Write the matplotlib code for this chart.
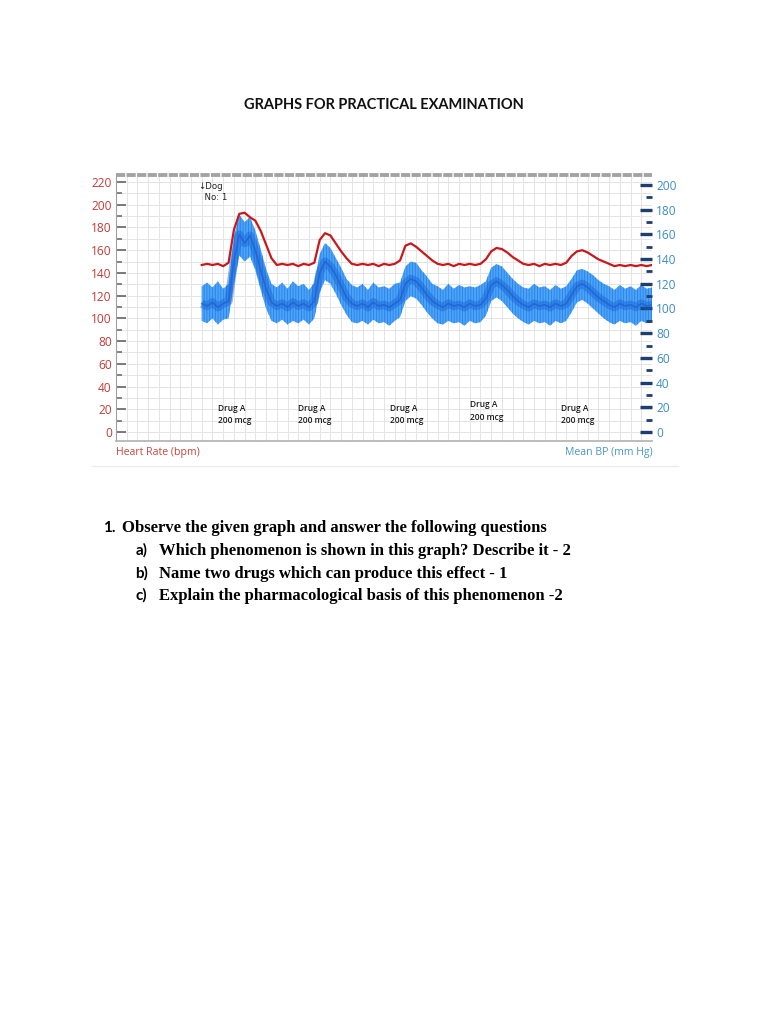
import numpy as np
import matplotlib.pyplot as plt
from matplotlib.ticker import MultipleLocator

plt.rcParams['lines.scale_dashes'] = False
plt.rcParams['hatch.linewidth'] = 0.6

# tiempo en divisiones de la cuadricula, una muestra cada media division
t_inicio, t_fin, t_paso = 8.0, 50.0, 0.5
tiempo = np.arange(t_inicio, t_fin + t_paso / 2, t_paso)

# Heart Rate (bpm), eje izquierdo
frecuencia = [147, 148, 147, 148, 146, 149, 178, 192, 193, 189,
              186, 177, 165, 153, 147, 148, 147, 148, 146, 148,
              147, 149, 169, 175, 173, 166, 159, 153, 148, 147,
              148, 147, 148, 146, 148, 147, 148, 151, 164, 166,
              163, 159, 155, 151, 148, 147, 148, 146, 148, 147,
              148, 147, 148, 152, 159, 162, 161, 158, 154, 151,
              148, 147, 148, 146, 148, 147, 148, 147, 149, 155,
              159, 160, 158, 155, 152, 150, 148, 146, 147, 146,
              147, 146, 147, 146, 147]

# Mean BP (mm Hg), eje derecho: centro y bordes de la banda
pam_media = [104, 102, 105, 101, 104, 106, 138, 160, 153, 159,
             147, 131, 116, 105, 102, 104, 101, 105, 102, 104,
             101, 106, 129, 138, 134, 127, 118, 109, 104, 102,
             104, 101, 105, 102, 103, 101, 104, 107, 120, 124,
             122, 117, 111, 106, 103, 101, 104, 102, 103, 101,
             104, 102, 103, 108, 119, 122, 119, 115, 110, 106,
             103, 101, 104, 102, 103, 101, 104, 102, 104, 111,
             118, 120, 117, 113, 109, 106, 103, 101, 104, 102,
             103, 101, 104, 102, 103]
pam_alta = [118, 121, 117, 122, 116, 120, 158, 176, 170, 174,
            163, 148, 132, 120, 117, 121, 116, 122, 118, 120,
            115, 121, 144, 153, 149, 141, 133, 124, 119, 117,
            120, 115, 121, 117, 118, 116, 120, 121, 134, 138,
            137, 131, 126, 120, 118, 115, 120, 116, 119, 117,
            118, 117, 119, 122, 133, 136, 134, 129, 124, 120,
            117, 116, 120, 117, 118, 115, 119, 116, 118, 124,
            131, 132, 130, 127, 123, 120, 118, 115, 119, 116,
            118, 115, 119, 116, 117]
pam_baja = [90, 88, 92, 87, 91, 92, 120, 143, 138, 142,
            131, 115, 100, 90, 88, 91, 87, 90, 88, 91,
            87, 92, 113, 123, 120, 112, 103, 95, 89, 88,
            90, 87, 91, 88, 89, 86, 90, 93, 106, 110,
            108, 103, 97, 92, 88, 87, 90, 88, 89, 86,
            90, 88, 89, 94, 106, 109, 106, 101, 96, 92,
            89, 87, 90, 88, 89, 86, 90, 88, 90, 97,
            105, 107, 104, 100, 96, 92, 89, 87, 90, 88,
            89, 86, 90, 88, 89]

# marcas de inyeccion (division de la cuadricula)
dosis_t = [9.5, 17.0, 25.6, 33.0, 41.5]
dosis_texto = 'Drug A\n200 mcg'

fc_ticks = list(range(0, 221, 20))
pa_ticks = list(range(0, 201, 20))

titulo = 'GRAPHS FOR PRACTICAL EXAMINATION'
preguntas = [('1.', 'Observe the given graph and answer the following questions'),
             ('a)', 'Which phenomenon is shown in this graph? Describe it - 2'),
             ('b)', 'Name two drugs which can produce this effect - 1'),
             ('c)', 'Explain the pharmacological basis of this phenomenon -2')]

W, H = 768, 1024
def px(x, y):
    return x / W, 1 - y / H

fig = plt.figure(figsize=(7.68, 10.24), dpi=100)
fig.patch.set_facecolor('white')

# ---- grafico ----
pos = [116 / W, 1 - 441 / H, 536 / W, 266 / H]
ax = fig.add_axes(pos)
ax.set_xlim(0, 50)
ax.set_ylim(-7.9, 226.2)
ax.set_xticks(range(0, 51))
ax.tick_params(axis='x', length=0, labelbottom=False)
ax.set_yticks(fc_ticks)
ax.yaxis.set_minor_locator(MultipleLocator(10))
ax.tick_params(axis='y', which='major', direction='in', length=7, width=1.3,
               color='#707070', labelcolor='#c23c36', labelsize=8.6, pad=3)
ax.tick_params(axis='y', which='minor', direction='in', length=4, width=1.2,
               color='#707070')
for lab in ax.get_yticklabels():
    lab.set_family('Open Sans')
ax.grid(True, which='both', color='#e4e4e4', lw=0.7)
ax.set_axisbelow(True)
for s in ['top', 'right']:
    ax.spines[s].set_visible(False)
ax.spines['left'].set_color('#a0a0a0')
ax.spines['bottom'].set_color('#b0b0b0')
ax.spines['bottom'].set_linewidth(1.2)
ax.axhline(226.2, color='#a3a3a3', lw=2.8, dashes=(6.6, 1.0), clip_on=False)

# presion arterial media, eje derecho
ax2 = ax.twinx()
ax2.set_ylim(-7.3, 208.1)
ax2.set_yticks(pa_ticks)
ax2.yaxis.set_minor_locator(MultipleLocator(10))
ax2.tick_params(axis='y', which='major', direction='in', length=9, width=2.4,
                color='#1d3f6e', labelcolor='#3a8cc8', labelsize=8.6, pad=3)
ax2.tick_params(axis='y', which='minor', direction='in', length=4, width=2.0,
                color='#1d3f6e')
for lab in ax2.get_yticklabels():
    lab.set_family('Open Sans')
for s in ax2.spines.values():
    s.set_visible(False)
ax2.fill_between(tiempo, pam_baja, pam_alta, facecolor='#4ba4f7',
                 edgecolor='#2a80e8', hatch='||||||', linewidth=0)
ax2.plot(tiempo, pam_media, color='#1660d4', lw=6, alpha=0.45,
         solid_capstyle='butt')
ax2.plot(tiempo, pam_media, color='#1a5fd0', lw=1.2, alpha=0.7)

# frecuencia cardiaca encima de todo
ax3 = fig.add_axes(pos, sharex=ax, sharey=ax)
ax3.patch.set_visible(False)
ax3.axis('off')
ax3.plot(tiempo, frecuencia, color='#c8181c', lw=1.6)

for i, t in enumerate(dosis_t):
    y = 18.5 if i == 3 else 15.5
    ax3.text(t, y, dosis_texto, fontsize=6.0, family='Open Sans', weight='semibold',
             color='#1a1a1a', va='center', ha='left', linespacing=1.5)
ax3.text(7.7, 211, '↓Dog\n  No: 1', fontsize=6.2, family=['Liberation Sans Narrow', 'DejaVu Sans'],
         color='#222222', va='center', ha='left', linespacing=1.25)

fig.text(*px(116, 453), 'Heart Rate (bpm)', fontsize=7.6, family='Open Sans',
         color='#c8463e', ha='left', va='center')
fig.text(*px(653, 453), 'Mean BP (mm Hg)', fontsize=7.6, family='Open Sans',
         color='#4a96c8', ha='right', va='center')
fig.add_artist(plt.Line2D([92 / W, 678 / W], [1 - 466 / H] * 2, color='#ececec', lw=1))

# ---- textos del documento ----
fig.text(*px(384, 109), titulo, fontsize=10.5, family='Lato', weight='bold',
         color='#111111', ha='center', va='baseline')

bases = [532, 555, 578, 600]
for i, (marca, texto) in enumerate(preguntas):
    if i == 0:
        xm, xt = 103, 121.5
    else:
        xm, xt = 135.5, 159
    fig.text(*px(xm, bases[i]), marca, fontsize=11, family='Lato', weight='bold',
             color='black', ha='left', va='baseline')
    fig.text(*px(xt, bases[i]), texto, fontsize=12, family='Liberation Serif',
             weight='bold', color='black', ha='left', va='baseline')

fig.savefig('out.png', dpi=100, facecolor='white')
